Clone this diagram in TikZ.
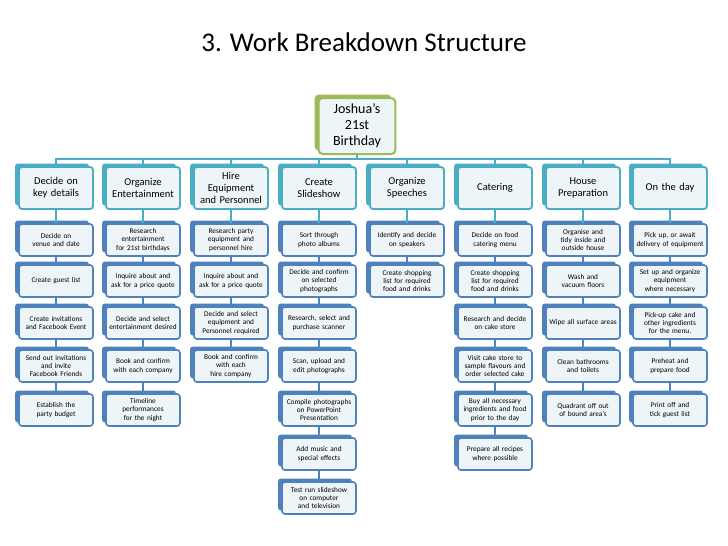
\documentclass[tikz,border=0pt]{standalone}
\usepackage{fontspec}
\setmainfont{Carlito}
\definecolor{teal1}{HTML}{4BACC6}
\definecolor{blue1}{HTML}{4F81BD}
\definecolor{green1}{HTML}{9BBB59}
\definecolor{lightf}{HTML}{EEF5F9}
\begin{document}
\begin{tikzpicture}[x=1pt,y=-1pt,
 nohy/.style={execute at begin node={\hyphenpenalty=10000\exhyphenpenalty=10000}},
 tab/.style={preaction={fill=#1,rounded corners=3pt,transform canvas={shift={(-4pt,3.5pt)}}}},
 lvl/.style={nohy,tab=teal1,draw=teal1,fill=lightf,line width=1.8pt,rounded corners=3pt,minimum width=74pt,minimum height=42pt,text width=64pt,align=center,font=\fontsize{10.5}{12}\selectfont,inner sep=1pt},
 kid/.style={nohy,tab=blue1,draw=blue1,fill=lightf,line width=1.6pt,rounded corners=3pt,minimum width=74pt,minimum height=32pt,text width=68pt,align=center,font=\fontsize{7.3}{8.4}\selectfont,inner sep=1pt},
 root/.style={tab=green1,draw=green1,fill=lightf,line width=2pt,rounded corners=4pt,minimum width=74pt,minimum height=56pt,text width=70pt,align=center,font=\fontsize{14}{16}\selectfont},
 con/.style={teal1,line width=1.2pt},
 kcon/.style={blue1,line width=1.2pt}]
\useasboundingbox (0,0) rectangle (728,546);
\node[font=\fontsize{27}{30}\selectfont] (title) at (364,42) {3. Work Breakdown Structure};
\node[root] (root) at (357,126) {Joshua's\\21st\\Birthday};
\coordinate (bar) at (357,159);
\foreach \i/\x/\t in {1/56/{Decide on key details},2/143/{Organize Entertainment},3/231/{Hire Equipment and Personnel},4/319/{Create Slideshow},5/407/{Organize Speeches},6/495/{Catering},7/583/{House Preparation},8/670/{On the day}}{
 \node[lvl] (l\i) at (\x,188) {\t};
 \draw[con] (root.south) -- (bar) -| (l\i.north);
}
\foreach \i/\x/\texts in {
1/56/{{Decide on venue and date},{Create guest list},{Create invitations and Facebook Event},{Send out invitations and invite Facebook Friends},{Establish the party budget}},
2/143/{{Research entertainment for 21st birthdays},{Inquire about and ask for a price quote},{Decide and select entertainment desired},{Book and confirm with each company},{Timeline performances for the night}},
3/231/{{Research party equipment and personnel hire},{Inquire about and ask for a price quote},{Decide and select equipment and Personnel required},{Book and confirm with each hire company}},
4/319/{{Sort through photo albums},{Decide and confirm on selected photographs},{Research, select and purchase scanner},{Scan, upload and edit photographs},{Compile photographs on PowerPoint Presentation},{Add music and special effects},{Test run slideshow on computer and television}},
5/407/{{Identify and decide on speakers},{Create shopping list for required food and drinks}},
6/495/{{Decide on food catering menu},{Create shopping list for required food and drinks},{Research and decide on cake store},{Visit cake store to sample flavours and order selected cake},{Buy all necessary ingredients and food prior to the day},{Prepare all recipes where possible}},
7/583/{{Organise and tidy inside and outside house},{Wash and vacuum floors},{Wipe all surface areas},{Clean bathrooms and toilets},{Quadrant off out of bound area's}},
8/670/{{Pick up, or await delivery of equipment},{Set up and organize equipment where necessary},{Pick-up cake and other ingredients for the menu.},{Preheat and prepare food},{Print off and tick guest list}}}{
 \foreach \t [count=\j] in \texts {
  \pgfmathsetmacro\yy{{240,281,323,366,410,454,498}[\j-1]}
  \node[kid] (c\i-\j) at (\x,\yy) {\t};
 }
}
\foreach \i/\n in {1/5,2/5,3/4,4/7,5/2,6/6,7/5,8/5}{
 \draw[con] (l\i.south) -- (c\i-1.north);
 \foreach \j [evaluate=\j as \k using int(\j+1)] in {1,...,\n}{
  \ifnum\j<\n \draw[kcon] (c\i-\j.south) -- (c\i-\k.north);\fi
 }
}
\end{tikzpicture}
\end{document}
